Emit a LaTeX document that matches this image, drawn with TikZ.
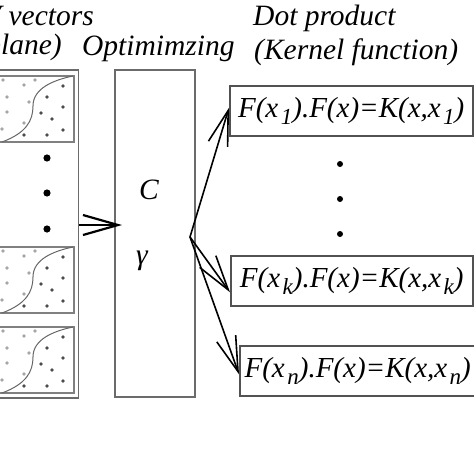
\documentclass[tikz,border=0pt]{standalone}
\usepackage{fontspec}
\setmainfont{Liberation Serif}
\usetikzlibrary{arrows.meta}
\newcommand\sbx[1]{\kern2.5pt\raisebox{-7pt}{\fontsize{23}{23}\selectfont #1}}
\tikzset{
  lbl/.style={inner sep=0pt, anchor=base west, font=\fontsize{29.5}{30}\selectfont\itshape},
  frame/.style={draw=black!58, line width=1.5pt, inner sep=0pt},
  kbox/.style={draw=black!68, line width=1.5pt, inner sep=0pt, minimum height=50pt,
     font=\fontsize{29}{30}\selectfont\itshape},
  pframe/.style={draw=black!50, line width=1.2pt},
  arr/.style={draw=black, line width=1.6pt, -{Straight Barb[length=35pt,width=20pt]}},
  bigdot/.style={fill=black},
  lightpt/.style={fill=black!35},
  darkpt/.style={fill=black!70},
}
\begin{document}
\begin{tikzpicture}[x=1pt,y=-1pt]
\useasboundingbox (0,0) rectangle (474,474);
\clip (0,0) rectangle (474,474);
% left labels (cut by the left border, as in the reference)
\node[lbl, anchor=base east] (t1) at (94,25) {SV vectors};
\node[lbl, anchor=base east] (t2) at (62,54) {(Hyperplane)};
\node[lbl] (t3) at (82,55) {Optimimzing};
\node[lbl] (t4) at (253,25) {Dot product};
\node[lbl] (t5) at (254,59) {(Kernel function)};
% outer left box
\node[frame, anchor=north east, minimum width=110pt, minimum height=328pt] (svbox) at (79,69) {};
% plots
\foreach \ty in {76,247,327}{
  \begin{scope}[shift={(74,\ty)}]
    \draw[pframe] (-110,0) rectangle (0,66);
    \draw[black!60, line width=1pt] (-72,66) .. controls (-48,57) and (-41,45) .. (-41,30)
         .. controls (-41,12) and (-20,4) .. (-1,0);
    \foreach \px/\py in {-71/4,-50/9,-39/4,-67/21,-45/26,-67/36,-50/47,-72/53}
      \fill[lightpt] (\px,\py) circle (1.9);
    \foreach \px/\py in {-11/10,-27/21,-11/31,-33/37,-22/43,-11/54,-50/59,-27/59}
      \fill[darkpt] (\px,\py) circle (1.9);
  \end{scope}
}
\foreach \dy in {158,193,229} \fill[bigdot] (47,\dy) circle (3.6);
% middle box
\node[frame, anchor=north west, minimum width=80pt, minimum height=327pt] (opt) at (114,69) {};
\node[lbl, anchor=center] (cc) at (149,190) {C};
\node[lbl, anchor=center] (gg) at (142,261) {γ};
% kernel boxes
\node[kbox, anchor=north west, minimum width=243pt] (k1) at (229,85) {F(x\sbx{1}).F(x)=K(x,x\sbx{1})};
\node[kbox, anchor=north west, minimum width=242pt] (k2) at (230,255) {F(x\sbx{k}).F(x)=K(x,x\sbx{k})};
\node[kbox, anchor=north west, minimum width=236pt] (k3) at (239,345) {F(x\sbx{n}).F(x)=K(x,x\sbx{n})};
\foreach \dy in {164,199,234} \fill[bigdot] (340,\dy) circle (3);
% connectors
\coordinate (lb) at (122,225);
\draw[arr, line width=2.2pt] (svbox.east |- lb) -- (lb);
\coordinate (src) at (190,237);
\draw[arr] (src) -- ([yshift=3pt]k1.west);
\draw[arr] (src) -- ([yshift=-11.5pt]k2.west);
\draw[arr] (src) -- ([yshift=-3.5pt]k3.west);
\end{tikzpicture}
\end{document}
